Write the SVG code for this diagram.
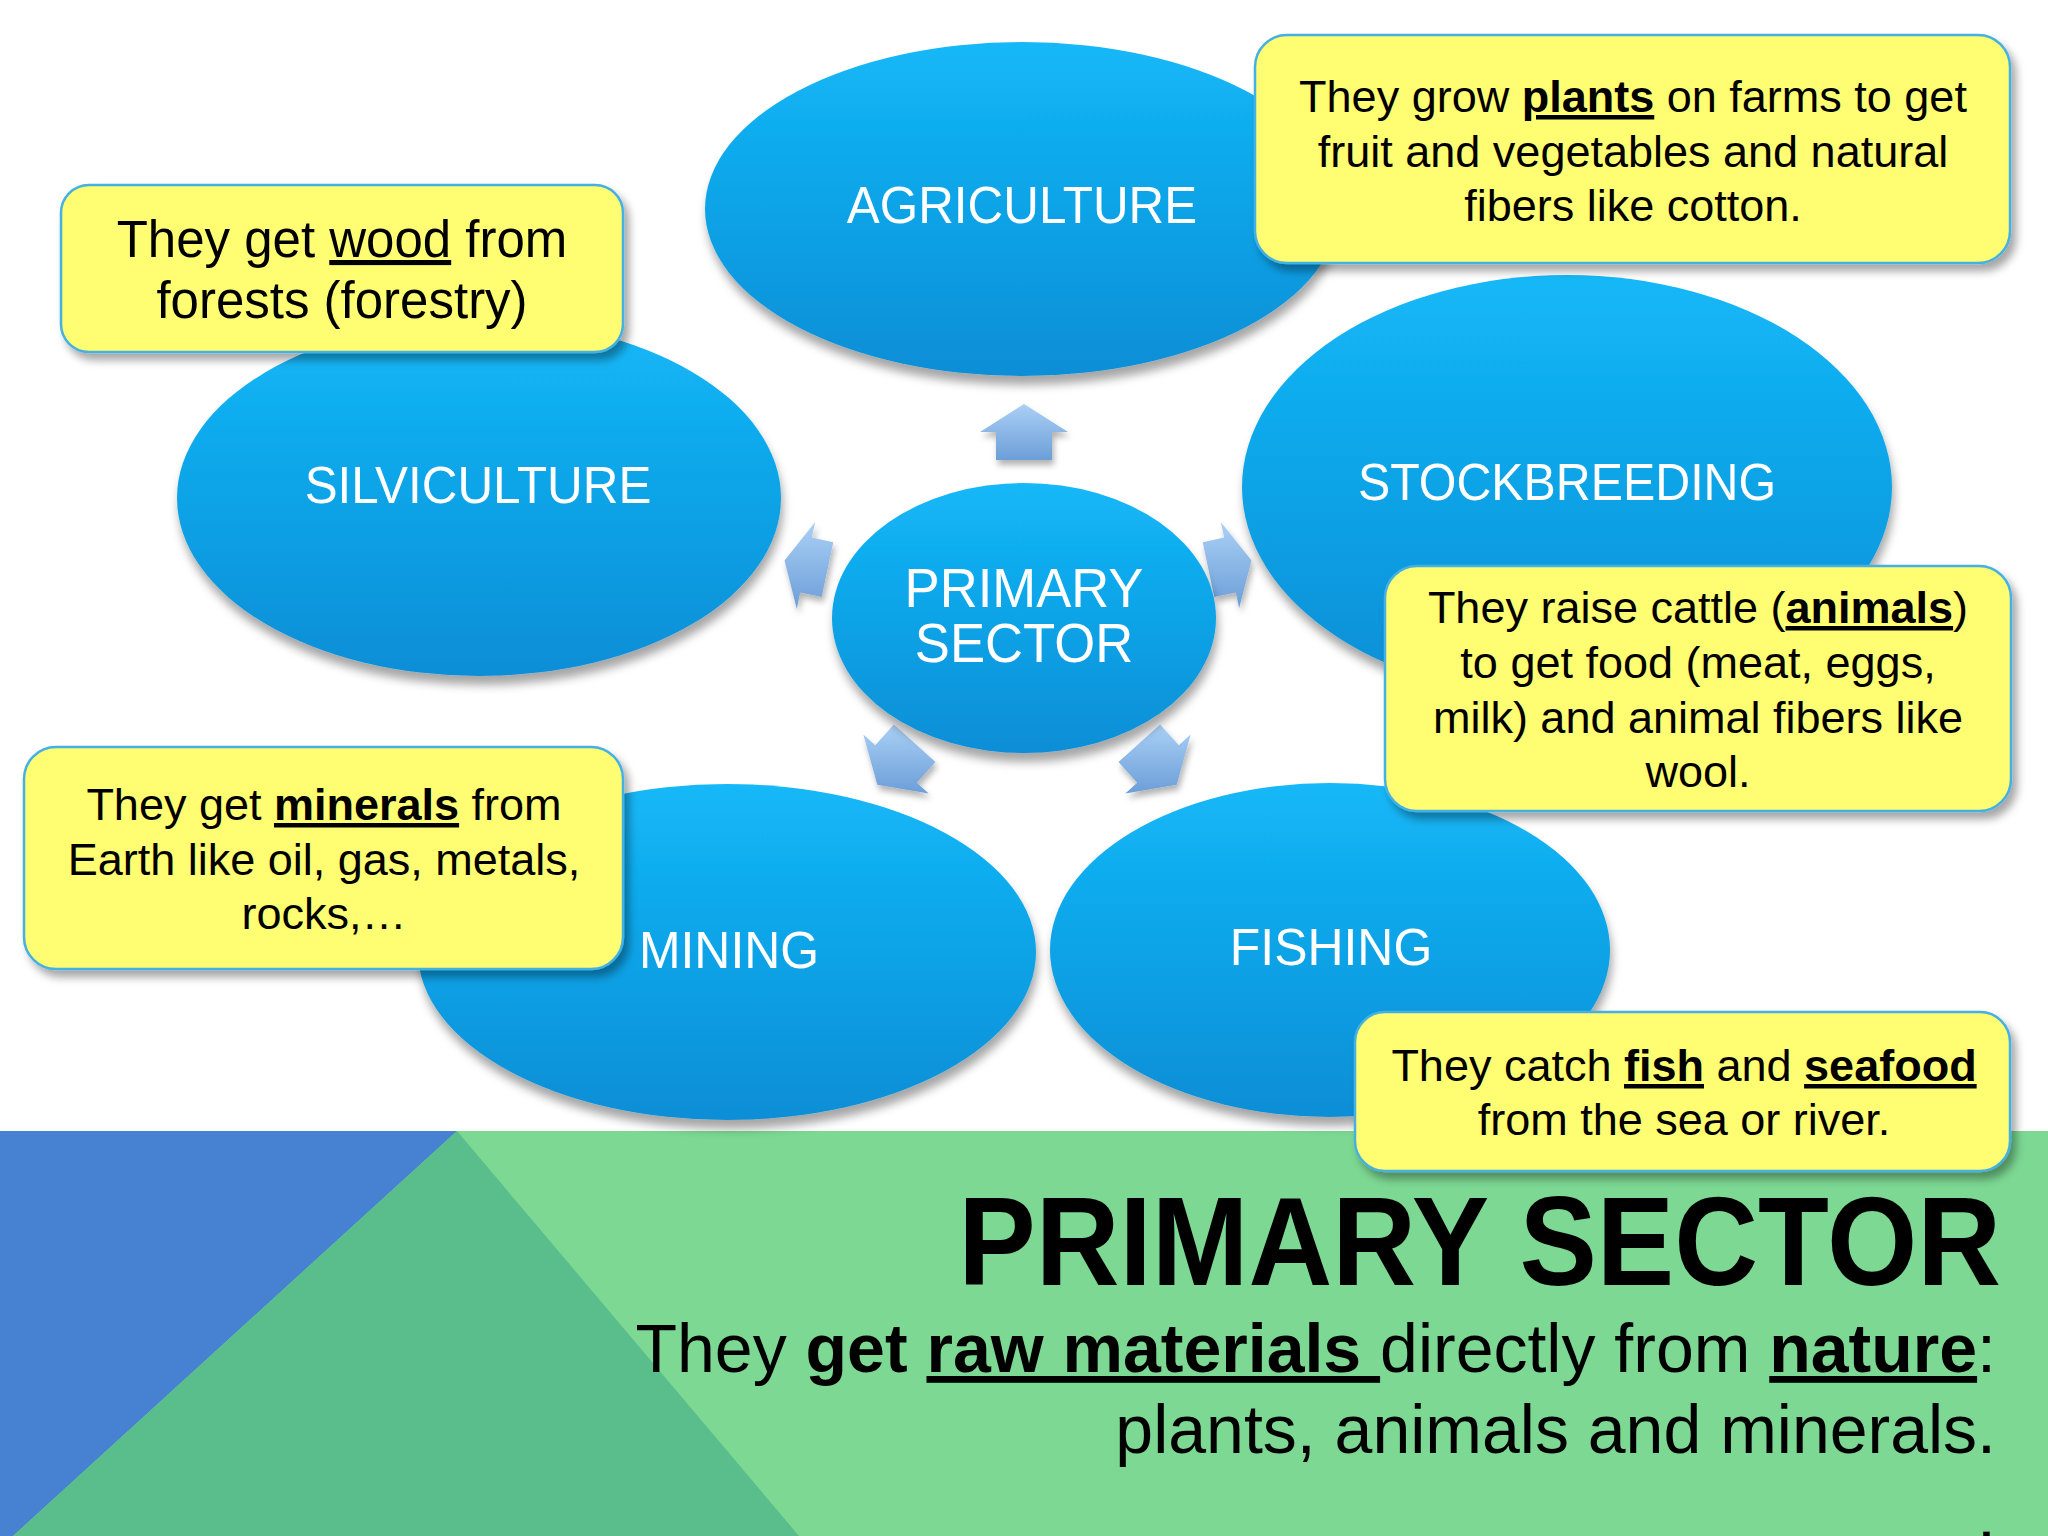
<svg xmlns="http://www.w3.org/2000/svg" width="2048" height="1536" viewBox="0 0 2048 1536">
<defs>
<linearGradient id="gEl" x1="0" y1="0" x2="0" y2="1">
<stop offset="0" stop-color="#13B8F8"/>
<stop offset="1" stop-color="#0B8ED6"/>
</linearGradient>
<linearGradient id="gAr" x1="0" y1="0" x2="0" y2="1">
<stop offset="0" stop-color="#AAD0F6"/>
<stop offset="1" stop-color="#6C9ED8"/>
</linearGradient>
<filter id="shE" x="-10%" y="-10%" width="125%" height="135%">
<feDropShadow dx="2" dy="9" stdDeviation="5" flood-color="#000" flood-opacity="0.35"/>
</filter>
<filter id="shC" x="-10%" y="-10%" width="125%" height="135%">
<feDropShadow dx="5" dy="7" stdDeviation="4" flood-color="#000" flood-opacity="0.35"/>
</filter>
<filter id="shA" x="-30%" y="-30%" width="160%" height="160%">
<feDropShadow dx="2" dy="5" stdDeviation="3" flood-color="#000" flood-opacity="0.3"/>
</filter>
</defs>
<style>
.el{fill:url(#gEl);filter:url(#shE)}
.lbl{font-family:"Liberation Sans",Arial,sans-serif;fill:#fff;font-size:52px;text-anchor:middle}
.co{fill:#FFFD72;stroke:#45B0E2;stroke-width:2.5;filter:url(#shC)}
.ct{font-family:"Liberation Sans",Arial,sans-serif;fill:#000;font-size:45px;text-anchor:middle}
.bu{font-weight:bold;text-decoration:underline}
.u{text-decoration:underline}
.ar{fill:url(#gAr);filter:url(#shA)}
.tt{font-family:"Liberation Sans",Arial,sans-serif;fill:#000}
</style>
<rect width="2048" height="1536" fill="#fff"/>
<g id="band">
<rect x="0" y="1131" width="2048" height="405" fill="#7CD893"/>
<polygon points="0,1131 457,1131 13,1536 0,1536" fill="#4782D2"/>
<polygon points="457,1131 13,1536 799,1536" fill="#59BE8C"/>
</g>
<g id="connectors">
<path class="ar" d="M1024,404 L980,432 L996,432 L996,460 L1052,460 L1052,432 L1068,432 Z"/>
<path class="ar" d="M784.5,560.4 L796.8,609 L800.2,592.4 L821.7,597 L833.3,542.2 L811.8,537.6 L815.2,522 Z"/>
<path class="ar" d="M1251.5,560.4 L1220.8,522 L1224.2,537.6 L1202.7,542.2 L1214.3,597 L1235.8,592.4 L1239.2,608 Z"/>
<path class="ar" d="M877.3,784.8 L928.7,793.4 L916.8,782.7 L935.5,761.9 L893.9,724.5 L875.2,745.3 L863.3,734.6 Z"/>
<path class="ar" d="M1176.7,784.8 L1190.7,734.6 L1178.8,745.3 L1160.1,724.5 L1118.5,761.9 L1137.2,782.7 L1125.3,793.4 Z"/>
</g>
<g id="node-agriculture">
<ellipse class="el" cx="1022" cy="209" rx="317" ry="167"/>
<text class="lbl" transform="translate(1022,223) scale(0.95,1)">AGRICULTURE</text>
</g>
<g id="node-silviculture">
<ellipse class="el" cx="479" cy="498" rx="302" ry="178"/>
<text class="lbl" transform="translate(478,503) scale(0.95,1)">SILVICULTURE</text>
</g>
<g id="node-stockbreeding">
<ellipse class="el" cx="1567" cy="487" rx="325" ry="212"/>
<text class="lbl" transform="translate(1567,500) scale(0.93,1)">STOCKBREEDING</text>
</g>
<g id="node-mining">
<ellipse class="el" cx="727" cy="952" rx="309" ry="168"/>
<text class="lbl" transform="translate(729,968) scale(0.96,1)">MINING</text>
</g>
<g id="node-fishing">
<ellipse class="el" cx="1330" cy="950" rx="280" ry="167"/>
<text class="lbl" transform="translate(1331,965) scale(0.96,1)">FISHING</text>
</g>
<g id="node-primary">
<ellipse class="el" cx="1024" cy="618" rx="192" ry="135"/>
<text class="lbl" style="font-size:56px" transform="translate(1024,607) scale(0.94,1)">PRIMARY</text>
<text class="lbl" style="font-size:56px" transform="translate(1024,662) scale(0.94,1)">SECTOR</text>
</g>
<g id="callout-agriculture">
<rect class="co" x="1255" y="35" width="755" height="228" rx="32"/>
<text class="ct" x="1633" y="112">They grow <tspan class="bu">plants</tspan> on farms to get</text>
<text class="ct" x="1633" y="167">fruit and vegetables and natural</text>
<text class="ct" x="1633" y="221">fibers like cotton.</text>
</g>
<g id="callout-silviculture">
<rect class="co" x="61" y="185" width="562" height="167" rx="28"/>
<text class="ct" style="font-size:51px" x="342" y="257">They get <tspan class="u">wood</tspan> from</text>
<text class="ct" style="font-size:51px" x="342" y="318">forests (forestry)</text>
</g>
<g id="callout-stockbreeding">
<rect class="co" x="1385" y="566" width="626" height="245" rx="32"/>
<text class="ct" x="1698" y="623">They raise cattle (<tspan class="bu">animals</tspan>)</text>
<text class="ct" x="1698" y="678">to get food (meat, eggs,</text>
<text class="ct" x="1698" y="733">milk) and animal fibers like</text>
<text class="ct" x="1698" y="787">wool.</text>
</g>
<g id="callout-mining">
<rect class="co" x="24" y="747" width="599" height="222" rx="32"/>
<text class="ct" x="324" y="820">They get <tspan class="bu">minerals</tspan> from</text>
<text class="ct" x="324" y="875">Earth like oil, gas, metals,</text>
<text class="ct" x="324" y="929">rocks,…</text>
</g>
<g id="callout-fishing">
<rect class="co" x="1355" y="1012" width="655" height="159" rx="30"/>
<text class="ct" x="1684" y="1081">They catch <tspan class="bu">fish</tspan> and <tspan class="bu">seafood</tspan></text>
<text class="ct" x="1684" y="1135">from the sea or river.</text>
</g>
<g id="title">
<text class="tt" style="font-size:127px;font-weight:bold;text-anchor:end" transform="translate(2001,1285) scale(0.914,1)">PRIMARY SECTOR</text>
<text class="tt" style="font-size:68px;text-anchor:end" x="1996" y="1372">They <tspan font-weight="bold">get</tspan> <tspan class="bu">raw materials </tspan>directly from <tspan class="bu">nature</tspan>:</text>
<text class="tt" style="font-size:68px;text-anchor:end" x="1996" y="1453">plants, animals and minerals.</text>
<text class="tt" style="font-size:68px;text-anchor:end" x="1996" y="1539">.</text>
</g>
</svg>
